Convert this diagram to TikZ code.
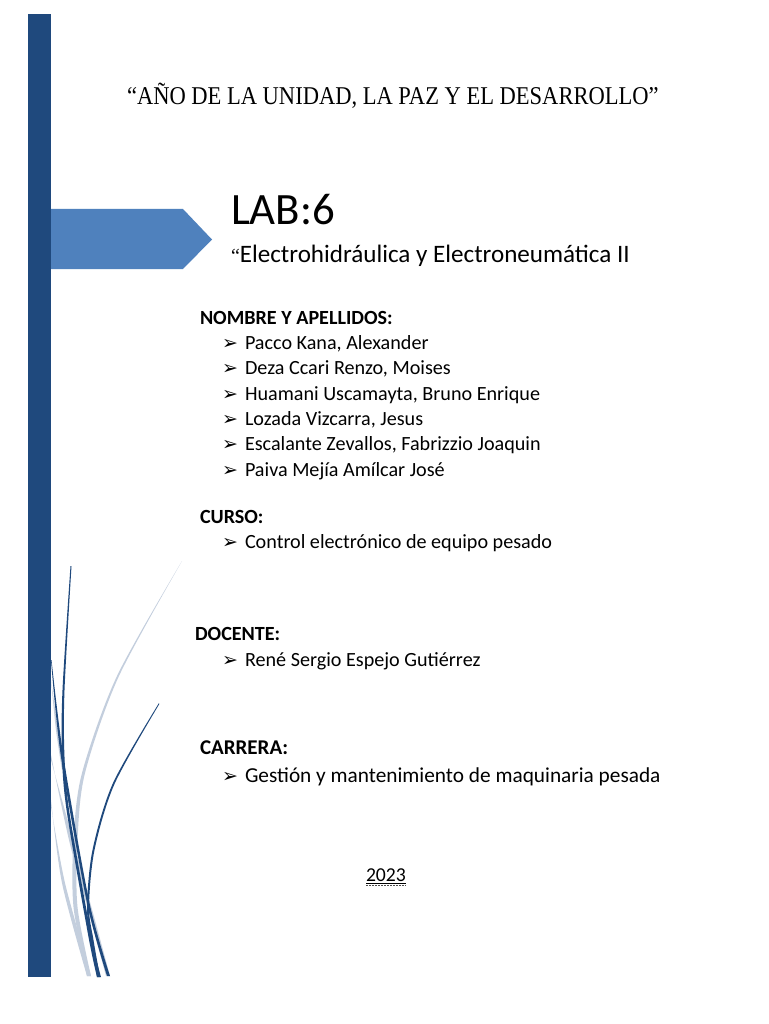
\documentclass[tikz,border=0pt]{standalone}
\usepackage{fontspec}
\setmainfont{Carlito}
\newfontfamily\serifface{Liberation Serif}
\newfontfamily\titleface[FakeStretch=0.88]{Liberation Serif}
\newfontfamily\dingface{DejaVu Sans}
\definecolor{barblue}{HTML}{1F497D}
\definecolor{arrowblue}{HTML}{4F81BD}
\definecolor{palestroke}{HTML}{C3CEDD}
\newcommand{\fsz}[1]{\fontsize{#1}{#1}\selectfont}
\tikzset{
  x=1pt,y=-1pt,
  txt/.style={inner sep=0pt,outer sep=0pt,anchor=base west,text=black},
  body/.style={txt,font=\fsz{20.15}},
  head/.style={txt,font=\fsz{20.1}\bfseries},
  tick/.style={txt,font=\dingface\fsz{19}},
  dark/.style={fill=barblue,draw=none},
  pale/.style={fill=palestroke,draw=none},
}
\begin{document}
\begin{tikzpicture}
\useasboundingbox[fill=white] (0,0) rectangle (768,1024);
% side bar and tab
\fill[barblue] (28,14) rectangle (51,977);
\fill[arrowblue] (51,209) -- (183,209) -- (212,239.5) -- (183,269) -- (51,269) -- cycle;
% pale strokes
\fill[pale] plot[smooth] coordinates {(182,561) (117,676) (82,773) (73.5,840) (73.5,907) (87,976)}
  -- plot[smooth] coordinates {(91,976) (77.5,907) (77.5,840) (85,773) (118.5,677) (182,561)} -- cycle;
\fill[pale] plot[smooth] coordinates {(51,755) (69,840) (89,913) (106,976)}
  -- plot[smooth] coordinates {(110,976) (93,913) (73,840) (51,760)} -- cycle;
\fill[pale] plot[smooth] coordinates {(51,800) (62,883) (87,976)}
  -- plot[smooth] coordinates {(91,976) (65,883) (51,806)} -- cycle;
\fill[pale] plot[smooth] coordinates {(51,680) (56,730) (62,770)}
  -- plot[smooth] coordinates {(64,770) (58,730) (51,680)} -- cycle;
% dark strokes
\fill[dark] plot[smooth] coordinates {(70.5,566) (62.5,690) (62,757) (67,813) (88.5,937) (97,977)}
  -- plot[smooth] coordinates {(101,977) (91.5,937) (69.5,813) (64.5,757) (64.5,690) (71.5,566)} -- cycle;
\fill[dark] plot[smooth] coordinates {(51,660) (61,757) (87,903) (107,976)}
  -- plot[smooth] coordinates {(110,976) (89.5,903) (63.5,757) (51.5,660)} -- cycle;
\fill[dark] plot[smooth] coordinates {(159,703) (113,783) (92.5,850) (87,907) (91,940) (97,977)}
  -- plot[smooth] coordinates {(100,977) (93.5,940) (89,907) (94.5,850) (114.5,784) (159,704.5)} -- cycle;
% texts
\node[txt,font=\titleface\fsz{25.6}] (title) at (127,105) {“AÑO DE LA UNIDAD, LA PAZ Y EL DESARROLLO”};
\node[txt,font=\fsz{44.8}] (lab) at (231,225) {LAB:6};
\node[txt,font=\fsz{25.1}] (sub) at (231,262.5) {{\serifface\fsz{20}“}Electrohidráulica y Electroneumática II};
\node[head] (nombre) at (200,324) {NOMBRE Y APELLIDOS:};
\foreach \n/\y/\t in {a/349/{Pacco Kana, Alexander},b/374/{Deza Ccari Renzo, Moises},c/400/{Huamani Uscamayta, Bruno Enrique},d/425/{Lozada Vizcarra, Jesus},e/450/{Escalante Zevallos, Fabrizzio Joaquin},f/476/{Paiva Mejía Amílcar José}}{
  \node[tick] (tick\n) at (222,\y) {➢};
  \node[body] (name\n) at (245,\y) {\t};
}
\node[head] (curso) at (200,523) {CURSO:};
\node[tick] (tickg) at (222,548) {➢};
\node[body] (control) at (245,548) {Control electrónico de equipo pesado};
\node[head] (docente) at (195,640) {DOCENTE:};
\node[tick] (tickh) at (222,666) {➢};
\node[body] (rene) at (245,666) {René Sergio Espejo Gutiérrez};
\node[head,font=\fsz{21}\bfseries] (carrera) at (200,754) {CARRERA:};
\node[tick] (ticki) at (222,782) {➢};
\node[body,font=\fsz{21.3}] (gestion) at (245,782) {Gestión y mantenimiento de maquinaria pesada};
\node[txt,font=\fsz{19.7}] (year) at (366,881) {2023};
\coordinate (ul) at (year.base west);
\coordinate (ur) at (year.base east);
\draw[black,line width=0.8pt] ([yshift=-2.5pt]ul) -- ([yshift=-2.5pt]ur);
\draw[black!70,line width=0.8pt,dash pattern=on 1.5pt off 1.5pt] ([yshift=-4.5pt]ul) -- ([yshift=-4.5pt]ur);
\end{tikzpicture}
\end{document}
